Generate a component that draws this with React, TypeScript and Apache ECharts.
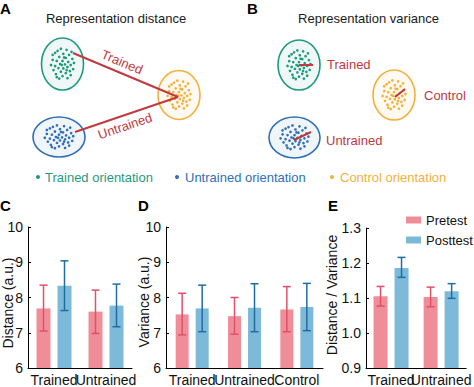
import React, { useEffect, useRef } from "react";
import * as echarts from "echarts";

const FONT = "'Liberation Sans', Arial, Helvetica, sans-serif";

// Panel C: representation distance
const distCategories = ["Trained", "Untrained"];
const distPretest = [7.69, 7.6];
const distPosttest = [8.33, 7.77];
const distPretestErr = [[7.05, 8.35], [6.98, 8.21]];
const distPosttestErr = [[7.63, 9.04], [7.17, 8.38]];

// Panel D: representation variance
const varCategories = ["Trained", "Untrained", "Control"];
const varPretest = [7.52, 7.47, 7.66];
const varPosttest = [7.69, 7.71, 7.73];
const varPretestErr = [[6.94, 8.12], [6.96, 8.0], [7.03, 8.31]];
const varPosttestErr = [[7.03, 8.35], [7.03, 8.39], [7.06, 8.4]];

// Panel E: distance / variance
const ratioCategories = ["Trained", "Untrained"];
const ratioPretest = [1.105, 1.103];
const ratioPosttest = [1.186, 1.119];
const ratioPretestErr = [[1.077, 1.133], [1.075, 1.131]];
const ratioPosttestErr = [[1.159, 1.216], [1.099, 1.141]];

const legendNames = ["Pretest", "Posttest"];
const topLegend = ["Trained orientation", "Untrained orientation", "Control orientation"];

// decorative dot pattern inside the ellipses (normalised offsets)
const DOTS = [
  [-0.1, -0.75], [0.25, -0.7], [-0.45, -0.55], [0.05, -0.5], [0.4, -0.45], [-0.2, -0.35],
  [0.2, -0.3], [0.6, -0.25], [-0.6, -0.2], [-0.35, -0.15], [0, -0.15], [0.35, -0.1],
  [-0.15, 0], [0.15, 0.02], [0.5, 0.05], [-0.7, 0.05], [-0.45, 0.1], [0.3, 0.15],
  [-0.25, 0.2], [0.05, 0.22], [0.65, 0.25], [-0.55, 0.3], [0.45, 0.35], [-0.1, 0.38],
  [0.2, 0.45], [-0.4, 0.5], [0.5, 0.55], [0, 0.6], [-0.2, 0.72], [0.3, 0.7],
  [-0.6, -0.45], [0.55, -0.6], [-0.3, -0.65], [0.1, -0.32], [-0.05, 0.05], [0.25, 0.3],
  [-0.35, 0.65], [0.7, -0.05],
];

const PRE = "#ef8e99";
const POST = "#7dbad9";
const PRE_ERR = "#e0506a";
const POST_ERR = "#1d6ea3";
const RED = "#c0393f";
const GREEN = "#1f9a7e";
const BLUE = "#2f6fb8";
const ORANGE = "#f2b13c";

function cluster(cx: number, cy: number, rx: number, ry: number, color: string, fill: string) {
  const els: any[] = [
    {
      type: "ellipse",
      shape: { cx, cy, rx, ry },
      style: { fill, stroke: color, lineWidth: 1.6 },
      silent: true,
    },
  ];
  DOTS.forEach(([dx, dy]) => {
    els.push({
      type: "circle",
      shape: { cx: cx + dx * rx * 0.78, cy: cy + dy * ry * 0.78, r: 1.35 },
      style: { fill: color },
      silent: true,
    });
  });
  return els;
}

function txt(x: number, y: number, text: string, opts: any = {}) {
  return {
    type: "text",
    x,
    y,
    rotation: opts.rotation || 0,
    silent: true,
    style: {
      text,
      fill: opts.color || "#1a1a1a",
      fontSize: opts.size || 13,
      fontFamily: FONT,
      fontWeight: opts.weight || "normal",
      align: opts.align || "left",
      verticalAlign: "middle",
    },
  };
}

function line(x1: number, y1: number, x2: number, y2: number, w = 2) {
  return { type: "line", silent: true, shape: { x1, y1, x2, y2 }, style: { stroke: RED, lineWidth: w } };
}

function errSeries(data: number[][], gi: number, offset: number, color: string) {
  return {
    type: "custom",
    xAxisIndex: gi,
    yAxisIndex: gi,
    z: 10,
    silent: true,
    encode: { x: 0, y: [1, 2] },
    data: data.map((d, i) => [i, d[0], d[1]]),
    renderItem: (params: any, api: any) => {
      const i = api.value(0);
      const lo = api.coord([i, api.value(1)]);
      const hi = api.coord([i, api.value(2)]);
      const x = lo[0] + offset;
      const cap = 4;
      const style = { stroke: color, lineWidth: 1.5 };
      return {
        type: "group",
        children: [
          { type: "line", shape: { x1: x, y1: lo[1], x2: x, y2: hi[1] }, style },
          { type: "line", shape: { x1: x - cap, y1: lo[1], x2: x + cap, y2: lo[1] }, style },
          { type: "line", shape: { x1: x - cap, y1: hi[1], x2: x + cap, y2: hi[1] }, style },
        ],
      };
    },
  };
}

function xAxis(gi: number, data: string[]) {
  return {
    type: "category",
    gridIndex: gi,
    data,
    axisLine: { lineStyle: { color: "#000", width: 1 } },
    axisTick: { alignWithLabel: true, length: 3, lineStyle: { color: "#000" } },
    axisLabel: { fontSize: 14, color: "#111", margin: 5, interval: 0, fontFamily: FONT },
  };
}

function yAxis(gi: number, min: number, max: number, interval: number, fmt?: (v: number) => string) {
  return {
    type: "value",
    gridIndex: gi,
    min,
    max,
    interval,
    axisLine: { show: true, lineStyle: { color: "#000", width: 1 } },
    axisTick: { show: true, inside: true, length: 3, lineStyle: { color: "#000" } },
    axisLabel: { fontSize: 14, color: "#111", margin: 5, fontFamily: FONT, formatter: fmt },
    splitLine: { show: false },
  };
}

function bars(gi: number, pre: number[], post: number[], bw: number, gap: string) {
  return [
    { type: "bar", name: legendNames[0], xAxisIndex: gi, yAxisIndex: gi, data: pre, barWidth: bw, barGap: gap, itemStyle: { color: PRE } },
    { type: "bar", name: legendNames[1], xAxisIndex: gi, yAxisIndex: gi, data: post, barWidth: bw, barGap: gap, itemStyle: { color: POST } },
  ];
}

export default function App() {
  const ref = useRef<HTMLDivElement>(null);
  useEffect(() => {
    if (!ref.current) return;
    const chart = echarts.init(ref.current, undefined, { renderer: "svg" });

    const graphic: any[] = [
      // panel letters
      txt(0, 8, "A", { size: 15, weight: "bold", color: "#000" }),
      txt(247, 8, "B", { size: 15, weight: "bold", color: "#000" }),
      txt(0, 205, "C", { size: 15, weight: "bold", color: "#000" }),
      txt(138, 205, "D", { size: 15, weight: "bold", color: "#000" }),
      txt(328, 205, "E", { size: 15, weight: "bold", color: "#000" }),
      // titles
      txt(116, 18, "Representation distance", { align: "center" }),
      txt(368.5, 18, "Representation variance", { align: "center" }),
      // panel A
      ...cluster(62.5, 64, 21, 26, GREEN, "rgba(31,154,126,0.07)"),
      ...cluster(179, 95, 21, 24.5, ORANGE, "rgba(242,177,60,0.07)"),
      ...cluster(59, 137, 26, 20, BLUE, "rgba(47,111,184,0.07)"),
      line(73, 53, 178, 97),
      line(75, 132, 178, 97),
      txt(122, 62, "Trained", { color: RED, align: "center", rotation: -0.4 }),
      txt(125, 126, "Untrained", { color: RED, align: "center", rotation: 0.33 }),
      // panel B
      ...cluster(299, 65, 21, 25, GREEN, "rgba(31,154,126,0.07)"),
      ...cluster(394, 95, 21, 25, ORANGE, "rgba(242,177,60,0.07)"),
      ...cluster(294.5, 137.5, 25.5, 20.5, BLUE, "rgba(47,111,184,0.07)"),
      line(299, 65, 313, 65),
      line(395, 97, 405, 89),
      line(294, 140, 311, 132),
      txt(327, 64, "Trained", { color: RED }),
      txt(424, 95, "Control", { color: RED }),
      txt(326, 140, "Untrained", { color: RED }),
      // top legend
      { type: "circle", silent: true, shape: { cx: 38, cy: 177, r: 2 }, style: { fill: GREEN } },
      txt(45, 177, topLegend[0], { color: GREEN }),
      { type: "circle", silent: true, shape: { cx: 177, cy: 177, r: 2 }, style: { fill: BLUE } },
      txt(185, 177, topLegend[1], { color: BLUE }),
      { type: "circle", silent: true, shape: { cx: 332, cy: 177, r: 2 }, style: { fill: ORANGE } },
      txt(340, 177, topLegend[2], { color: ORANGE }),
      // axis names
      txt(7.5, 303, "Distance (a.u.)", { size: 14, align: "center", rotation: Math.PI / 2, color: "#111" }),
      txt(144, 302, "Variance (a.u.)", { size: 14, align: "center", rotation: Math.PI / 2, color: "#111" }),
      txt(332, 295, "Distance / Variance", { size: 14, align: "center", rotation: Math.PI / 2, color: "#111" }),
    ];

    chart.setOption({
      animation: false,
      textStyle: { fontFamily: FONT },
      grid: [
        { left: 28, top: 227, width: 104, height: 141 },
        { left: 166, top: 227, width: 157, height: 141 },
        { left: 366, top: 228, width: 102, height: 141 },
      ],
      xAxis: [xAxis(0, distCategories), xAxis(1, varCategories), xAxis(2, ratioCategories)],
      yAxis: [
        yAxis(0, 6, 10, 1),
        yAxis(1, 6, 10, 1),
        yAxis(2, 0.9, 1.3, 0.1, (v: number) => v.toFixed(1)),
      ],
      legend: {
        data: legendNames,
        orient: "vertical",
        left: 406,
        top: 213,
        itemWidth: 15,
        itemHeight: 7,
        itemGap: 6,
        icon: "rect",
        padding: 0,
        textStyle: { fontSize: 13, color: "#111", fontFamily: FONT, lineHeight: 14 },
      },
      series: [
        ...bars(0, distPretest, distPosttest, 14, "50%"),
        errSeries(distPretestErr, 0, -10.5, PRE_ERR),
        errSeries(distPosttestErr, 0, 10.5, POST_ERR),
        ...bars(1, varPretest, varPosttest, 13, "54%"),
        errSeries(varPretestErr, 1, -10, PRE_ERR),
        errSeries(varPosttestErr, 1, 10, POST_ERR),
        ...bars(2, ratioPretest, ratioPosttest, 14, "50%"),
        errSeries(ratioPretestErr, 2, -10.5, PRE_ERR),
        errSeries(ratioPosttestErr, 2, 10.5, POST_ERR),
      ],
      graphic,
    });
    return () => chart.dispose();
  }, []);

  return (
    <div
      ref={ref}
      style={{ position: "fixed", left: 0, top: 0, width: 474, height: 387, background: "#fff" }}
    />
  );
}
